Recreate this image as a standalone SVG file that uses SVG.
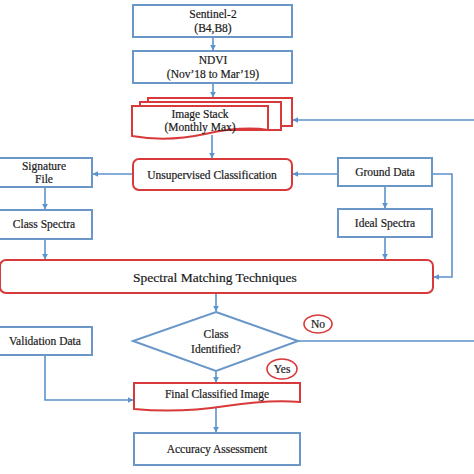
<svg xmlns="http://www.w3.org/2000/svg" width="474" height="474" viewBox="0 0 474 474">
<style>
.bl{fill:#fff;stroke:#6a97c8;stroke-width:2}
.rd{fill:#fff;stroke:#d8393a;stroke-width:2}
.cn{fill:none;stroke:#5b93cc;stroke-width:1.6}
.t{font-family:"Liberation Serif","Times New Roman",serif;font-size:11.5px;fill:#1a1a1a;stroke:#1a1a1a;stroke-width:0.2;text-anchor:middle}
.big{font-size:13.5px}
.el{fill:#fff;stroke:#d8393a;stroke-width:1.6}
</style>
<defs>
<marker id="ah" viewBox="0 0 10 10" refX="9" refY="5" markerWidth="6" markerHeight="6" orient="auto" markerUnits="userSpaceOnUse">
<path d="M0,0 L10,5 L0,10 z" fill="#5b93cc"/>
</marker>
</defs>
<rect width="474" height="474" fill="#fff"/>
<g id="connectors">
<line class="cn" x1="213" y1="37" x2="213" y2="50" marker-end="url(#ah)"/>
<line class="cn" x1="213" y1="83" x2="213" y2="97" marker-end="url(#ah)"/>
<line class="cn" x1="474" y1="120" x2="293" y2="120" marker-end="url(#ah)"/>
<line class="cn" x1="212" y1="135" x2="212" y2="158" marker-end="url(#ah)"/>
<line class="cn" x1="133" y1="174" x2="93" y2="174" marker-end="url(#ah)"/>
<line class="cn" x1="338" y1="174" x2="293" y2="174" marker-end="url(#ah)"/>
<polyline class="cn" points="432,174 452,174 452,277 434,277" marker-end="url(#ah)"/>
<line class="cn" x1="45" y1="187" x2="45" y2="209" marker-end="url(#ah)"/>
<line class="cn" x1="385" y1="186" x2="385" y2="208" marker-end="url(#ah)"/>
<line class="cn" x1="45" y1="239" x2="45" y2="259" marker-end="url(#ah)"/>
<line class="cn" x1="385" y1="237" x2="385" y2="259" marker-end="url(#ah)"/>
<line class="cn" x1="216" y1="293" x2="216" y2="311" marker-end="url(#ah)"/>
<line class="cn" x1="298" y1="341" x2="474" y2="341"/>
<line class="cn" x1="216" y1="371" x2="216" y2="382" marker-end="url(#ah)"/>
<polyline class="cn" points="45,355 45,400 133,400" marker-end="url(#ah)"/>
<line class="cn" x1="216" y1="408" x2="216" y2="432" marker-end="url(#ah)"/>
</g>
<g id="sentinel">
<rect class="bl" x="133" y="5" width="159" height="32"/>
<text class="t" x="213" y="18">Sentinel-2</text>
<text class="t" x="213" y="32">(B4,B8)</text>
</g>
<g id="ndvi">
<rect class="bl" x="133" y="51" width="159" height="32"/>
<text class="t" x="213" y="64">NDVI</text>
<text class="t" x="213" y="78">(Nov’18 to Mar’19)</text>
</g>
<g id="imagestack">
<path class="rd" d="M148,98 H292 V126 H148 Z"/>
<path class="rd" d="M140,102 H281 V130 H140 Z"/>
<path class="rd" d="M132,106 H268 V130 C250,127 228,129 205,134 C182,139 155,140 132,136 Z"/>
<text class="t" x="200" y="118">Image Stack</text>
<text class="t" x="200" y="131">(Monthly Max)</text>
</g>
<g id="unsupervised">
<rect class="rd" x="133" y="159" width="159" height="31" rx="6"/>
<text class="t" x="212" y="179">Unsupervised Classification</text>
</g>
<g id="signature">
<rect class="bl" x="-1" y="158" width="93" height="29"/>
<text class="t" x="44" y="170">Signature</text>
<text class="t" x="44" y="183">File</text>
</g>
<g id="groundData">
<rect class="bl" x="338" y="158" width="94" height="28"/>
<text class="t" x="385" y="176">Ground Data</text>
</g>
<g id="classSpectra">
<rect class="bl" x="-1" y="210" width="93" height="29"/>
<text class="t" x="44" y="228">Class Spectra</text>
</g>
<g id="idealSpectra">
<rect class="bl" x="338" y="209" width="94" height="28"/>
<text class="t" x="385" y="227">Ideal Spectra</text>
</g>
<g id="spectralMatching">
<rect class="rd" x="0" y="260" width="433" height="33" rx="6"/>
<text class="t big" x="215" y="282">Spectral Matching Techniques</text>
</g>
<g id="decision">
<polygon class="bl" points="216,312 298,341 216,371 133,341"/>
<text class="t" x="216" y="338">Class</text>
<text class="t" x="216" y="353">Identified?</text>
</g>
<g id="no">
<ellipse class="el" cx="318" cy="324" rx="14" ry="9"/>
<text class="t" x="318" y="328">No</text>
</g>
<g id="yes">
<ellipse class="el" cx="282" cy="369" rx="15" ry="10"/>
<text class="t" x="282" y="373">Yes</text>
</g>
<g id="validation">
<rect class="bl" x="-1" y="327" width="93" height="28"/>
<text class="t" x="45" y="345">Validation Data</text>
</g>
<g id="finalImage">
<path class="rd" d="M134,383 H300 V402 C278,400 252,402 226,406 C200,410 165,412 134,409 Z"/>
<text class="t" x="217" y="398">Final Classified Image</text>
</g>
<g id="accuracy">
<rect class="bl" x="134" y="433" width="166" height="32"/>
<text class="t" x="217" y="453">Accuracy Assessment</text>
</g>
</svg>
